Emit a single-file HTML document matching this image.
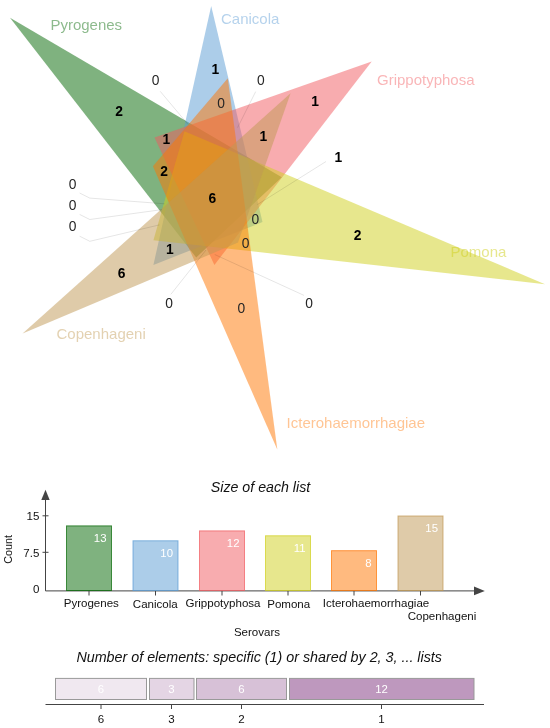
<!DOCTYPE html>
<html><head><meta charset="utf-8"><title>Venn</title>
<style>
html,body{margin:0;padding:0;background:#fff;}
svg{display:block;font-family:"Liberation Sans",Arial,sans-serif;}
.lab{font-size:15px;}
.nb{font-size:13.8px;font-weight:bold;fill:#000;text-anchor:middle;}
.nz{font-size:13.8px;fill:#262626;text-anchor:middle;}
.ln{stroke:#000;stroke-opacity:0.1;stroke-width:1;fill:none;}
.ax{font-size:11.55px;fill:#111;}
.ttl{font-size:14.2px;font-style:italic;fill:#111;text-anchor:middle;}
.bv{font-size:11.4px;fill:#fff;text-anchor:end;}
</style></head><body>
<svg width="550" height="728" viewBox="0 0 550 728">
<rect width="550" height="728" fill="#fff"/>
<g id="venn">
<polygon points="10.0,17.8 281.8,177.2 196.2,257.5" fill="rgb(0,102,0)" fill-opacity="0.5"/>
<polygon points="211.2,6.0 153.4,264.9 262.5,222.1" fill="rgb(90,155,212)" fill-opacity="0.5"/>
<polygon points="371.7,61.6 154.5,137.6 214.4,264.9" fill="rgb(241,90,96)" fill-opacity="0.5"/>
<polygon points="545.0,284.2 184.4,131.2 153.4,240.3" fill="rgb(207,207,27)" fill-opacity="0.5"/>
<polygon points="277.3,449.5 227.8,78.2 152.9,166.3" fill="rgb(255,117,0)" fill-opacity="0.5"/>
<polygon points="22.6,333.6 290.6,93.2 238,242.6" fill="rgb(192,152,83)" fill-opacity="0.5"/>
<g class="ln">
<path d="M160.2 91.3 L188 124.4"/>
<path d="M255.7 91.6 L237.6 127.6"/>
<path d="M326 161.5 L257.5 204.5"/>
<path d="M79.6 193 L89.8 198.1 L164.5 203.8"/>
<path d="M79.6 214.4 L89.8 219.5 L162 209.6"/>
<path d="M79.6 236.2 L89.8 241.3 L159.4 224.9"/>
<path d="M170.9 294.3 L206 250"/>
<path d="M304 295.4 L214.7 254.5"/>
</g>
</g>
<g id="labels" class="lab">
<text x="50.4" y="29.5" fill="rgb(0,102,0)" fill-opacity="0.45">Pyrogenes</text>
<text x="221.0" y="23.8" fill="rgb(90,155,212)" fill-opacity="0.45">Canicola</text>
<text x="377.0" y="84.5" fill="rgb(241,90,96)" fill-opacity="0.45">Grippotyphosa</text>
<text x="450.5" y="256.8" fill="rgb(207,207,27)" fill-opacity="0.5">Pomona</text>
<text x="286.6" y="428.4" fill="rgb(255,117,0)" fill-opacity="0.42">Icterohaemorrhagiae</text>
<text x="56.5" y="339.3" fill="rgb(192,152,83)" fill-opacity="0.45">Copenhageni</text>
</g>
<g id="nums">
<text class="nb" x="119.2" y="116.4">2</text>
<text class="nb" x="215.4" y="74.1">1</text>
<text class="nb" x="315" y="106.3">1</text>
<text class="nb" x="263.4" y="141.2">1</text>
<text class="nb" x="166.4" y="144.4">1</text>
<text class="nb" x="164" y="175.6">2</text>
<text class="nb" x="212.3" y="202.5">6</text>
<text class="nb" x="338.3" y="161.9">1</text>
<text class="nb" x="357.5" y="240.4">2</text>
<text class="nb" x="169.9" y="253.5">1</text>
<text class="nb" x="121.5" y="277.9">6</text>
<text class="nz" x="155.6" y="85">0</text>
<text class="nz" x="260.8" y="85">0</text>
<text class="nz" x="221" y="108.4">0</text>
<text class="nz" x="72.7" y="188.9">0</text>
<text class="nz" x="72.7" y="210">0</text>
<text class="nz" x="72.7" y="231.1">0</text>
<text class="nz" x="255.3" y="224.3">0</text>
<text class="nz" x="245.6" y="247.6">0</text>
<text class="nz" x="169.1" y="308">0</text>
<text class="nz" x="241.4" y="312.5">0</text>
<text class="nz" x="309.1" y="308.4">0</text>
</g>
<g id="chart1">
<text class="ttl" x="260.5" y="491.5">Size of each list</text>
<path d="M45.5 498 V590.9 H476" stroke="#444" stroke-width="1" fill="none"/>
<path d="M45.5 489.8 L49.7 500 H41.3 Z" fill="#444"/>
<path d="M484.8 590.9 L474 586.6 V595.2 Z" fill="#444"/>
<g stroke="#444" stroke-width="1">
<path d="M42.5 515.8 H48.5 M42.5 552.3 H48.5"/>
<path d="M89 591 V595.5 M155.5 591 V595.5 M222 591 V595.5 M288 591 V595.5 M354 591 V595.5 M420.5 591 V595.5"/>
</g>
<g class="ax" text-anchor="end">
<text x="39.4" y="520.3">15</text>
<text x="39.4" y="557">7.5</text>
<text x="39.4" y="593.4">0</text>
</g>
<text class="ax" style="font-size:10.8px" text-anchor="middle" transform="translate(12.4,549.3) rotate(-90)">Count</text>
<rect x="66.5" y="525.9" width="45" height="64.6" fill="rgb(0,102,0)" fill-opacity="0.5" stroke="rgb(0,102,0)" stroke-opacity="0.7"/>
<rect x="133" y="540.8" width="45" height="49.7" fill="rgb(90,155,212)" fill-opacity="0.5" stroke="rgb(90,155,212)" stroke-opacity="0.7"/>
<rect x="199.5" y="530.9" width="45" height="59.6" fill="rgb(241,90,96)" fill-opacity="0.5" stroke="rgb(241,90,96)" stroke-opacity="0.7"/>
<rect x="265.5" y="535.8" width="45" height="54.7" fill="rgb(207,207,27)" fill-opacity="0.5" stroke="rgb(207,207,27)" stroke-opacity="0.7"/>
<rect x="331.5" y="550.7" width="45" height="39.8" fill="rgb(255,117,0)" fill-opacity="0.5" stroke="rgb(255,117,0)" stroke-opacity="0.7"/>
<rect x="398" y="516" width="45" height="74.5" fill="rgb(192,152,83)" fill-opacity="0.5" stroke="rgb(192,152,83)" stroke-opacity="0.7"/>
<g class="bv">
<text x="106.5" y="542.3">13</text>
<text x="173" y="557.2">10</text>
<text x="239.5" y="547.3">12</text>
<text x="305.5" y="552.3">11</text>
<text x="371.5" y="567.3">8</text>
<text x="438" y="532.3">15</text>
</g>
<g class="ax" text-anchor="middle">
<text x="91.3" y="607">Pyrogenes</text>
<text x="155.3" y="607.9">Canicola</text>
<text x="223" y="606.9">Grippotyphosa</text>
<text x="288.7" y="607.9">Pomona</text>
<text x="376" y="606.6">Icterohaemorrhagiae</text>
<text x="442" y="620.3">Copenhageni</text>
<text x="257" y="636">Serovars</text>
</g>
</g>
<g id="chart2">
<text class="ttl" style="font-size:14.3px" x="259.2" y="661.5">Number of elements: specific (1) or shared by 2, 3, ... lists</text>
<g stroke="#999" stroke-width="1">
<rect x="55.5" y="678.4" width="91" height="21.1" fill="rgb(240,232,240)"/>
<rect x="149.5" y="678.4" width="44.5" height="21.1" fill="rgb(228,213,228)"/>
<rect x="196.5" y="678.4" width="90" height="21.1" fill="rgb(215,193,215)"/>
<rect x="289.5" y="678.4" width="184.5" height="21.1" fill="rgb(190,152,190)"/>
</g>
<g class="bv" style="text-anchor:middle">
<text x="101" y="693">6</text>
<text x="171.5" y="693">3</text>
<text x="241.5" y="693">6</text>
<text x="381.5" y="693">12</text>
</g>
<path d="M45.5 704.5 H484" stroke="#444" stroke-width="1" fill="none"/>
<path d="M101 704.5 V709 M171.5 704.5 V709 M241.5 704.5 V709 M381.5 704.5 V709" stroke="#444" stroke-width="1"/>
<g class="ax" text-anchor="middle">
<text x="101" y="723.3">6</text>
<text x="171.5" y="723.3">3</text>
<text x="241.5" y="723.3">2</text>
<text x="381.5" y="723.3">1</text>
</g>
</g>
</svg>
</body></html>
